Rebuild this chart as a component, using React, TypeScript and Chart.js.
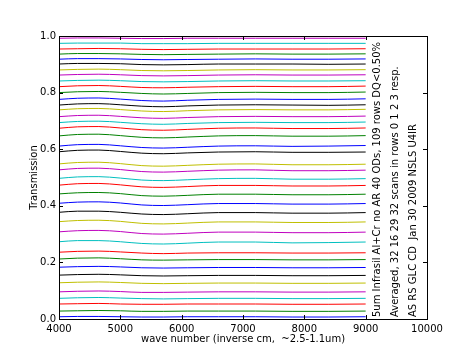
import React, { useEffect, useRef } from "react";
import { Chart, registerables } from "chart.js";

Chart.register(...registerables);

const xValues = [4000, 4300, 4650, 5000, 5350, 5700, 6100, 6600, 7200, 7800, 8400, 9000];

const s00 = [0.008, 0.009, 0.009, 0.008, 0.007, 0.007, 0.008, 0.008, 0.008, 0.007, 0.007, 0.008];
const s01 = [0.028, 0.029, 0.030, 0.029, 0.027, 0.027, 0.028, 0.028, 0.028, 0.027, 0.027, 0.028];
const s02 = [0.053, 0.054, 0.055, 0.053, 0.052, 0.052, 0.053, 0.053, 0.053, 0.052, 0.052, 0.053];
const s03 = [0.073, 0.075, 0.076, 0.074, 0.072, 0.071, 0.072, 0.073, 0.073, 0.072, 0.072, 0.073];
const s04 = [0.096, 0.098, 0.099, 0.097, 0.094, 0.094, 0.095, 0.096, 0.096, 0.095, 0.095, 0.096];
const s05 = [0.128, 0.130, 0.131, 0.129, 0.126, 0.125, 0.126, 0.127, 0.127, 0.126, 0.126, 0.127];
const s06 = [0.155, 0.157, 0.158, 0.156, 0.153, 0.152, 0.153, 0.154, 0.154, 0.153, 0.153, 0.154];
const s07 = [0.183, 0.185, 0.186, 0.184, 0.181, 0.180, 0.181, 0.182, 0.182, 0.181, 0.181, 0.182];
const s08 = [0.212, 0.215, 0.216, 0.213, 0.209, 0.208, 0.209, 0.210, 0.210, 0.209, 0.209, 0.210];
const s09 = [0.236, 0.239, 0.240, 0.237, 0.233, 0.231, 0.233, 0.234, 0.234, 0.233, 0.233, 0.234];
const s10 = [0.273, 0.277, 0.277, 0.273, 0.267, 0.265, 0.268, 0.272, 0.272, 0.269, 0.270, 0.272];
const s11 = [0.308, 0.312, 0.313, 0.309, 0.302, 0.300, 0.303, 0.307, 0.307, 0.305, 0.305, 0.307];
const s12 = [0.344, 0.348, 0.349, 0.345, 0.338, 0.336, 0.339, 0.343, 0.343, 0.341, 0.341, 0.343];
const s13 = [0.377, 0.381, 0.381, 0.377, 0.371, 0.369, 0.372, 0.376, 0.376, 0.374, 0.374, 0.376];
const s14 = [0.409, 0.413, 0.414, 0.410, 0.403, 0.401, 0.404, 0.408, 0.408, 0.406, 0.406, 0.408];
const s15 = [0.442, 0.446, 0.447, 0.443, 0.436, 0.434, 0.437, 0.441, 0.441, 0.439, 0.439, 0.441];
const s16 = [0.473, 0.478, 0.479, 0.474, 0.467, 0.465, 0.468, 0.472, 0.472, 0.470, 0.470, 0.472];
const s17 = [0.497, 0.502, 0.503, 0.498, 0.491, 0.489, 0.492, 0.496, 0.497, 0.494, 0.494, 0.496];
const s18 = [0.527, 0.532, 0.533, 0.528, 0.521, 0.519, 0.522, 0.526, 0.527, 0.524, 0.524, 0.526];
const s19 = [0.548, 0.553, 0.554, 0.549, 0.542, 0.540, 0.543, 0.547, 0.548, 0.545, 0.545, 0.547];
const s20 = [0.591, 0.596, 0.597, 0.592, 0.586, 0.584, 0.587, 0.590, 0.591, 0.589, 0.589, 0.590];
const s21 = [0.611, 0.616, 0.617, 0.612, 0.606, 0.604, 0.607, 0.611, 0.612, 0.610, 0.611, 0.613];
const s22 = [0.647, 0.652, 0.653, 0.648, 0.642, 0.640, 0.643, 0.647, 0.648, 0.646, 0.646, 0.648];
const s23 = [0.674, 0.679, 0.680, 0.675, 0.669, 0.667, 0.670, 0.674, 0.675, 0.673, 0.673, 0.675];
const s24 = [0.694, 0.698, 0.699, 0.695, 0.690, 0.688, 0.691, 0.694, 0.695, 0.694, 0.694, 0.696];
const s25 = [0.715, 0.719, 0.720, 0.716, 0.711, 0.709, 0.712, 0.715, 0.716, 0.715, 0.715, 0.717];
const s26 = [0.739, 0.743, 0.744, 0.740, 0.735, 0.733, 0.736, 0.739, 0.740, 0.739, 0.739, 0.741];
const s27 = [0.756, 0.760, 0.761, 0.757, 0.752, 0.750, 0.753, 0.756, 0.757, 0.756, 0.755, 0.757];
const s28 = [0.776, 0.780, 0.781, 0.777, 0.772, 0.770, 0.773, 0.776, 0.777, 0.776, 0.776, 0.778];
const s29 = [0.800, 0.803, 0.804, 0.801, 0.797, 0.795, 0.797, 0.800, 0.801, 0.800, 0.800, 0.802];
const s30 = [0.821, 0.824, 0.825, 0.822, 0.818, 0.817, 0.819, 0.821, 0.822, 0.821, 0.821, 0.823];
const s31 = [0.841, 0.843, 0.844, 0.842, 0.839, 0.838, 0.839, 0.841, 0.842, 0.841, 0.841, 0.842];
const s32 = [0.862, 0.864, 0.865, 0.863, 0.860, 0.859, 0.860, 0.862, 0.863, 0.862, 0.862, 0.863];
const s33 = [0.880, 0.882, 0.883, 0.881, 0.878, 0.877, 0.878, 0.880, 0.881, 0.880, 0.880, 0.881];
const s34 = [0.901, 0.903, 0.903, 0.902, 0.899, 0.898, 0.899, 0.901, 0.901, 0.901, 0.900, 0.901];
const s35 = [0.918, 0.920, 0.920, 0.919, 0.917, 0.916, 0.917, 0.918, 0.919, 0.918, 0.918, 0.919];
const s36 = [0.936, 0.938, 0.938, 0.937, 0.935, 0.934, 0.935, 0.936, 0.937, 0.936, 0.936, 0.937];
const s37 = [0.954, 0.955, 0.956, 0.955, 0.953, 0.952, 0.953, 0.954, 0.954, 0.954, 0.954, 0.955];
const s38 = [0.974, 0.975, 0.975, 0.975, 0.973, 0.973, 0.973, 0.974, 0.974, 0.974, 0.974, 0.974];
const s39 = [0.992, 0.993, 0.993, 0.992, 0.991, 0.991, 0.992, 0.992, 0.992, 0.992, 0.992, 0.992];

const seriesList = [
  s00, s01, s02, s03, s04, s05, s06, s07, s08, s09,
  s10, s11, s12, s13, s14, s15, s16, s17, s18, s19,
  s20, s21, s22, s23, s24, s25, s26, s27, s28, s29,
  s30, s31, s32, s33, s34, s35, s36, s37, s38, s39,
];

const colorCycle = ["#0000ff", "#008000", "#ff0000", "#00bfbf", "#bf00bf", "#bfbf00", "#000000"];

const xTickLabels = ["4000", "5000", "6000", "7000", "8000", "9000", "10000"];
const yTickLabels = ["0.0", "0.2", "0.4", "0.6", "0.8", "1.0"];

const xTitle = "wave number (inverse cm,  ~2.5-1.1um)";
const yTitle = "Transmission";
const noteLines = [
  "5um Infrasil Al+Cr no AR 40 ODs, 109 rows DQ<0.50%",
  "Averaged, 32 16 29 32 scans in rows 0 1 2 3 resp.",
  "AS RS GLC CD  Jan 30 2009 NSLS U4IR",
];

const FONT = "'DejaVu Sans', 'Bitstream Vera Sans', sans-serif";

const framePlugin = {
  id: "mplFrame",
  afterDatasetsDraw(chart: any) {
    const { ctx, chartArea } = chart;
    const { left, right, top, bottom } = chartArea;
    const xs = chart.scales.x;
    const ys = chart.scales.y;
    ctx.save();
    ctx.strokeStyle = "#000";
    ctx.lineWidth = 1;
    ctx.beginPath();
    const tl = 4;
    xs.ticks.forEach((t: any) => {
      const px = Math.round(xs.getPixelForValue(t.value)) + 0.5;
      ctx.moveTo(px, bottom);
      ctx.lineTo(px, bottom - tl);
      ctx.moveTo(px, top);
      ctx.lineTo(px, top + tl);
    });
    ys.ticks.forEach((t: any) => {
      const py = Math.round(ys.getPixelForValue(t.value)) + 0.5;
      ctx.moveTo(left, py);
      ctx.lineTo(left + tl, py);
      ctx.moveTo(right, py);
      ctx.lineTo(right - tl, py);
    });
    ctx.stroke();
    ctx.strokeRect(Math.round(left) + 0.5, Math.round(top) + 0.5, Math.round(right - left), Math.round(bottom - top));

    // rotated annotation
    ctx.fillStyle = "#000";
    ctx.font = `10px ${FONT}`;
    ctx.textAlign = "left";
    ctx.textBaseline = "middle";
    const baseX = right - 50;
    noteLines.forEach((line, i) => {
      ctx.save();
      ctx.translate(baseX + i * 18, bottom - 2);
      ctx.rotate(-Math.PI / 2);
      ctx.fillText(line, 0, 0);
      ctx.restore();
    });
    ctx.restore();
  },
};

export default function App() {
  const ref = useRef<HTMLCanvasElement | null>(null);
  useEffect(() => {
    if (!ref.current) return;
    const datasets = seriesList.map((vals, i) => ({
      label: `OD ${i}`,
      data: vals.map((v, j) => ({ x: xValues[j], y: v })),
      borderColor: colorCycle[i % colorCycle.length],
      borderWidth: 1,
      pointRadius: 0,
      fill: false,
      cubicInterpolationMode: "monotone" as const,
    }));
    const chart = new Chart(ref.current, {
      type: "line",
      data: { datasets },
      options: {
        animation: false,
        responsive: false,
        maintainAspectRatio: false,
        layout: { padding: { top: 36, right: 47, left: 0, bottom: 0 } },
        plugins: { legend: { display: false }, tooltip: { enabled: false } },
        scales: {
          x: {
            type: "linear",
            min: 4000,
            max: 10000,
            afterFit: (s: any) => { s.height = 36; },
            afterBuildTicks: (s: any) => {
              s.ticks = xTickLabels.map((l) => ({ value: Number(l) }));
            },
            ticks: {
              color: "#000",
              font: { family: FONT, size: 10 },
              padding: 4,
              maxRotation: 0,
              autoSkip: false,
              callback: (v: any) => String(v),
            },
            grid: { display: false, drawTicks: false },
            border: { display: false },
            title: {
              display: true,
              text: xTitle,
              color: "#000",
              font: { family: FONT, size: 10 },
              padding: { top: 0, bottom: 10 },
            },
          },
          y: {
            type: "linear",
            min: 0,
            max: 1,
            afterFit: (s: any) => { s.width = 59; },
            afterBuildTicks: (s: any) => {
              s.ticks = yTickLabels.map((l) => ({ value: Number(l) }));
            },
            ticks: {
              color: "#000",
              font: { family: FONT, size: 10 },
              padding: 3,
              autoSkip: false,
              callback: (v: any) => Number(v).toFixed(1),
            },
            grid: { display: false, drawTicks: false },
            border: { display: false },
            title: {
              display: true,
              text: yTitle,
              color: "#000",
              font: { family: FONT, size: 10 },
              padding: { top: 28, bottom: 0 },
            },
          },
        },
      },
      plugins: [framePlugin],
    });
    return () => chart.destroy();
  }, []);
  return (
    <div style={{ position: "absolute", left: 0, top: 0, width: 474, height: 355, background: "#fff" }}>
      <canvas ref={ref} width={474} height={355} />
    </div>
  );
}
